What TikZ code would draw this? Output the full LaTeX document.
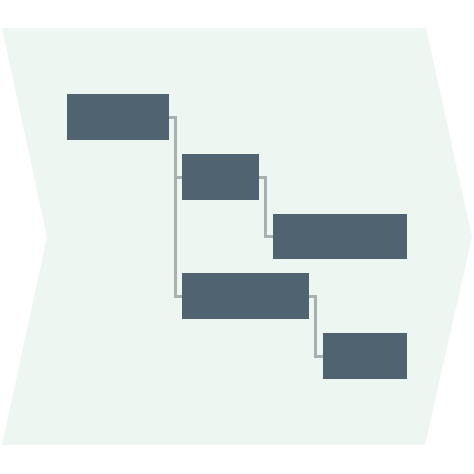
\documentclass[tikz,border=0pt]{standalone}
\usetikzlibrary{calc}
\definecolor{bgmint}{HTML}{EEF6F2}
\definecolor{boxslate}{HTML}{4F6470}
\definecolor{linkgray}{HTML}{A8B0B2}
\begin{document}
\begin{tikzpicture}[x=1pt,y=-1pt,
  taskbox/.style={fill=boxslate,draw=none,inner sep=0pt,rectangle},
  link/.style={draw=linkgray,line width=3pt,line join=miter}]
\useasboundingbox (0,0) rectangle (474,474);
\fill[bgmint] (2,28) -- (426,28) -- (472,237) -- (425,445) -- (2,445) -- (47,237) -- cycle;
\node[taskbox,minimum width=102pt,minimum height=46pt] (b1) at (118,117) {};
\node[taskbox,minimum width=77pt,minimum height=46pt] (b2) at (220.5,177) {};
\node[taskbox,minimum width=134pt,minimum height=45pt] (b3) at (340,236.5) {};
\node[taskbox,minimum width=127pt,minimum height=46pt] (b4) at (245.5,296) {};
\node[taskbox,minimum width=84pt,minimum height=46pt] (b5) at (365,356) {};
\draw[link] (b1.east) -- ++(6,0) coordinate (j1) |- (b4.west);
\draw[link] (j1) |- (b2.west);
\draw[link] (b2.east) -- ++(6.5,0) coordinate (j2) |- (b3.west);
\draw[link] (b4.east) -- ++(6.5,0) coordinate (j3) |- (b5.west);
\end{tikzpicture}
\end{document}
